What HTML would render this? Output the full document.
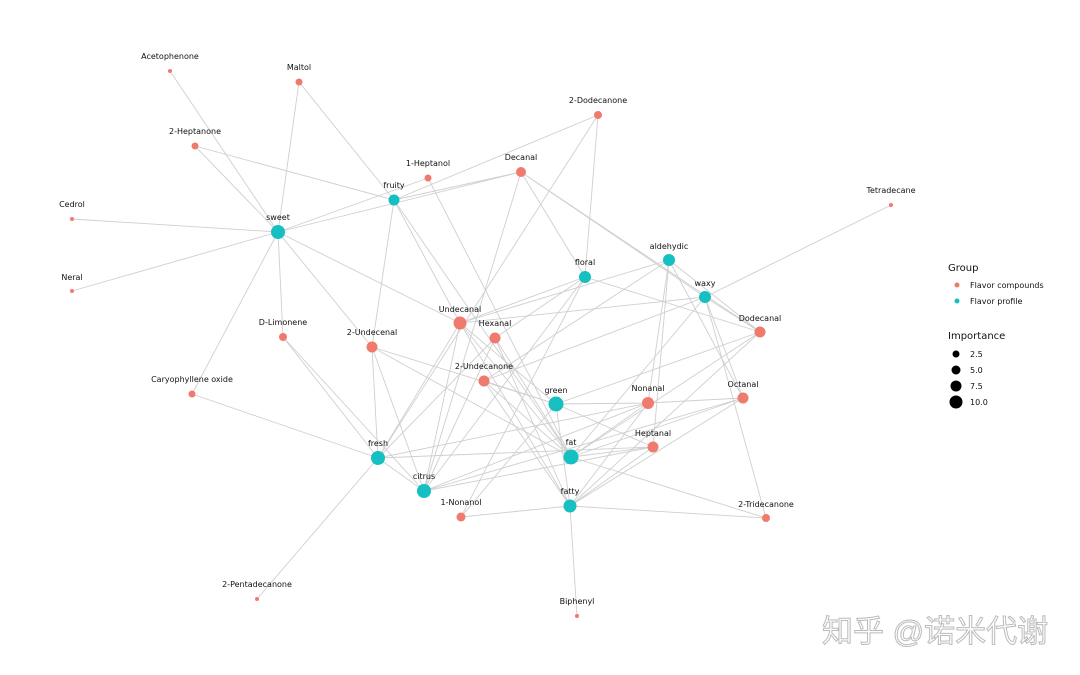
<!DOCTYPE html>
<html><head><meta charset="utf-8"><style>
html,body{margin:0;padding:0;background:#fff;width:1080px;height:675px;overflow:hidden}
svg{display:block}
text{font-family:"DejaVu Sans","Liberation Sans",sans-serif;font-size:8px;fill:#111;text-anchor:middle}
.lg{text-anchor:start;font-size:8px}
.lt{text-anchor:start;font-size:10px}
.wm{font-family:"Liberation Sans","Noto Sans CJK SC",sans-serif;font-size:31px;fill:#fff;stroke:#bbb;stroke-width:1;text-anchor:start}
</style></head><body>
<svg id="s" width="1080" height="675" viewBox="0 0 1080 675">
<g id="edges" stroke="#cfcfcf" stroke-width="0.9"></g>
<g id="nodes"></g>
<g id="labels">
<text x="170" y="59">Acetophenone</text>
<text x="299" y="70">Maltol</text>
<text x="195" y="134">2-Heptanone</text>
<text x="428" y="166">1-Heptanol</text>
<text x="394" y="188">fruity</text>
<text x="521" y="160">Decanal</text>
<text x="598" y="103">2-Dodecanone</text>
<text x="891" y="193">Tetradecane</text>
<text x="72" y="207">Cedrol</text>
<text x="278" y="220">sweet</text>
<text x="72" y="280">Neral</text>
<text x="669" y="249">aldehydic</text>
<text x="585" y="265">floral</text>
<text x="705" y="286">waxy</text>
<text x="283" y="325">D-Limonene</text>
<text x="460" y="312">Undecanal</text>
<text x="495" y="326">Hexanal</text>
<text x="372" y="335">2-Undecenal</text>
<text x="760" y="321">Dodecanal</text>
<text x="484" y="369">2-Undecanone</text>
<text x="192" y="382">Caryophyllene oxide</text>
<text x="556" y="393">green</text>
<text x="648" y="391">Nonanal</text>
<text x="743" y="387">Octanal</text>
<text x="653" y="436">Heptanal</text>
<text x="378" y="446">fresh</text>
<text x="571" y="445">fat</text>
<text x="424" y="479">citrus</text>
<text x="461" y="505">1-Nonanol</text>
<text x="570" y="494">fatty</text>
<text x="766" y="507">2-Tridecanone</text>
<text x="257" y="587">2-Pentadecanone</text>
<text x="577" y="604">Biphenyl</text>
</g>
<g>
<text class="lt" x="948" y="271">Group</text>
<circle cx="957" cy="285" r="2.5" fill="#f07a6e"/>
<text class="lg" x="970" y="288">Flavor compounds</text>
<circle cx="957" cy="301" r="2.5" fill="#15bfc2"/>
<text class="lg" x="970" y="304">Flavor profile</text>
<text class="lt" x="948" y="339">Importance</text>
<circle cx="956" cy="354" r="3.5" fill="#000"/><text class="lg" x="970" y="357">2.5</text>
<circle cx="956" cy="370" r="4.5" fill="#000"/><text class="lg" x="970" y="373">5.0</text>
<circle cx="956" cy="386" r="5.5" fill="#000"/><text class="lg" x="970" y="389">7.5</text>
<circle cx="956" cy="402" r="6.5" fill="#000"/><text class="lg" x="970" y="405">10.0</text>
</g>
<text class="wm" x="822" y="642">知乎 @诺米代谢</text>
</svg>
<script>
var N={Acetophenone:[170,71,2,0],Maltol:[299,82,3.5,0],H2:[195,146,3.5,0],Hep1:[428,178,3.5,0],fruity:[394,200,5.5,1],Decanal:[521,172,5,0],Dod2:[598,115,4,0],Tetra:[891,205,2,0],Cedrol:[72,219,2,0],sweet:[278,232,7,1],Neral:[72,291,2,0],ald:[669,260,6,1],floral:[585,277,6,1],waxy:[705,297,6,1],Dlim:[283,337,4,0],Undecanal:[460,323,6.5,0],Hexanal:[495,338,5.5,0],Und2:[372,347,5.5,0],Dodecanal:[760,332,5.5,0],Uone:[484,381,5.5,0],Cary:[192,394,3.5,0],green:[556,404,7.5,1],Nonanal:[648,403,6,0],Octanal:[743,398,5.5,0],Heptanal:[653,447,5.5,0],fresh:[378,458,7,1],fat:[571,457,7.5,1],citrus:[424,491,7,1],Non1:[461,517,4.5,0],fatty:[570,506,6.5,1],Tri2:[766,518,4,0],Pent2:[257,599,2,0],Biphenyl:[577,616,2,0]};
var E="Acetophenone-sweet Maltol-sweet Maltol-fruity H2-sweet H2-fruity Cedrol-sweet Neral-sweet sweet-Hep1 sweet-Decanal fruity-Dod2 fruity-Decanal sweet-Dlim sweet-Cary sweet-Und2 sweet-Undecanal fruity-Und2 fruity-Undecanal fruity-fat Hep1-fat Decanal-citrus Decanal-floral Decanal-Dodecanal Decanal-waxy Dod2-floral Dod2-fresh Tetra-waxy floral-Undecanal floral-Hexanal floral-Dodecanal floral-Non1 floral-citrus ald-Undecanal ald-Uone ald-Nonanal ald-Heptanal ald-Octanal ald-Dodecanal waxy-Undecanal waxy-Dodecanal waxy-Octanal waxy-Tri2 waxy-fat Cary-fresh Dlim-fresh Dlim-citrus Und2-fresh Und2-citrus Und2-fat Und2-green Undecanal-fresh Undecanal-citrus Undecanal-fat Undecanal-fatty Undecanal-green Hexanal-fresh Hexanal-fat Hexanal-fatty Hexanal-citrus Uone-green Uone-fatty Uone-fat green-Nonanal green-Heptanal green-fatty green-Dodecanal Nonanal-fresh Nonanal-citrus Nonanal-fat Nonanal-fatty Nonanal-Octanal Octanal-fat Octanal-fatty Octanal-citrus Heptanal-fat Heptanal-fatty Heptanal-fresh Heptanal-citrus Dodecanal-fat Dodecanal-fatty fat-Tri2 fatty-Tri2 fatty-Non1 fatty-Biphenyl fresh-Pent2 fresh-citrus Non1-green waxy-Uone".split(" ");
var ns="http://www.w3.org/2000/svg",eg=document.getElementById("edges"),ng=document.getElementById("nodes");
E.forEach(function(e){var p=e.split("-"),a=N[p[0]],b=N[p[1]];var l=document.createElementNS(ns,"line");l.setAttribute("x1",a[0]);l.setAttribute("y1",a[1]);l.setAttribute("x2",b[0]);l.setAttribute("y2",b[1]);eg.appendChild(l);});
for(var k in N){var n=N[k],c=document.createElementNS(ns,"circle");c.setAttribute("cx",n[0]);c.setAttribute("cy",n[1]);c.setAttribute("r",n[2]);c.setAttribute("fill",n[3]?"#15bfc2":"#f07a6e");ng.appendChild(c);}
</script>
</body></html>
